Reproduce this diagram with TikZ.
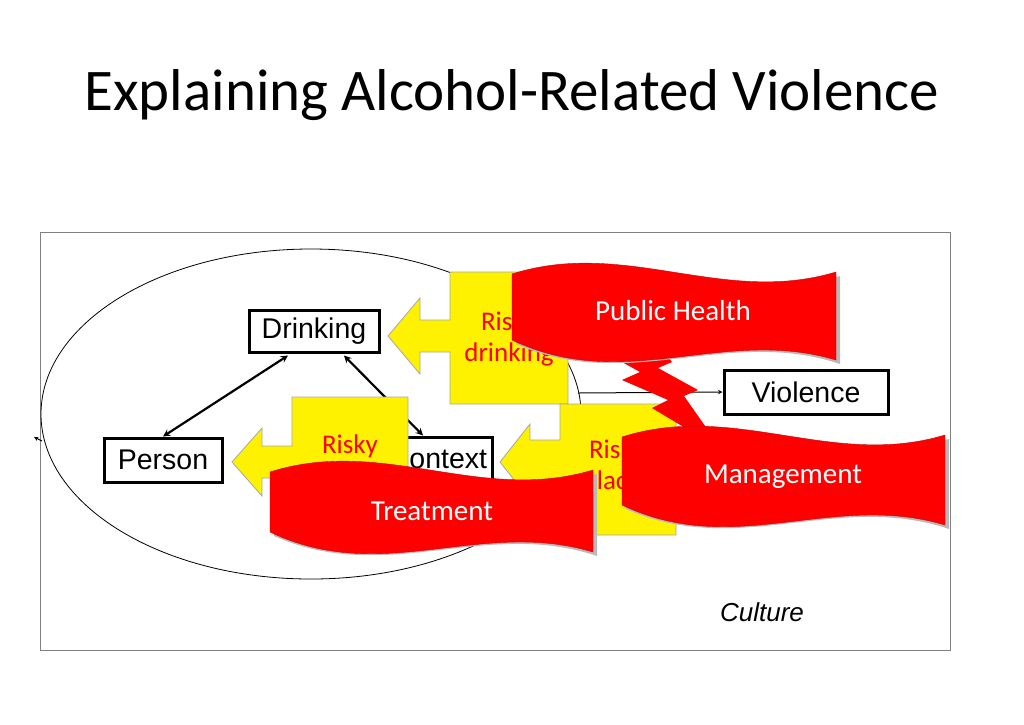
\documentclass[tikz,border=0pt]{standalone}
\usepackage{fontspec}
\setmainfont{Carlito}
\newfontfamily\arialfont{Liberation Sans}
\usetikzlibrary{positioning}

\tikzset{
  factor/.style={draw, line width=3pt, inner sep=5pt, font=\arialfont\fontsize{28.5}{32}\selectfont},
  callout/.style={fill=yellow, draw=gray!70, line width=.8pt},
  banner/.style={fill=red, draw=red!80!black, line width=.4pt},
  shadow/.style={fill=gray!55},
  risklabel/.style={text=red, align=center, font=\fontsize{27}{31}\selectfont},
  bannerlabel/.style={text=white, font=\fontsize{29}{33}\selectfont},
}
% wavy banner: x0,y0 (top left), x1,y1 (bottom right)
\newcommand{\wavebanner}[4]{%
  \fill[shadow] ({#1+4},{#2+16}) .. controls ({#1+(#3-#1)*.35+4},{#2-24}) and ({#1+(#3-#1)*.65+4},{#2+44}) .. ({#3+4},{#2+14})
    -- ({#3+4},{#4+4}) .. controls ({#1+(#3-#1)*.65+4},{#4-34}) and ({#1+(#3-#1)*.35+4},{#4+34}) .. ({#1+4},{#4-16}) -- cycle;
  \path[banner] (#1,{#2+12}) .. controls ({#1+(#3-#1)*.35},{#2-24}) and ({#1+(#3-#1)*.65},{#2+44}) .. (#3,{#2+10})
    -- (#3,#4) .. controls ({#1+(#3-#1)*.65},{#4-34}) and ({#1+(#3-#1)*.35},{#4+34}) .. (#1,{#4-20}) -- cycle;
}

\begin{document}
\begin{tikzpicture}[x=1pt, y=-1pt]
  \useasboundingbox (0,0) rectangle (1024,724);
  \node (title) at (512,95) {\fontsize{59}{66}\selectfont Explaining Alcohol-Related Violence};

  \draw[gray, line width=.8pt] (40,232) rectangle (950,650);
  \draw[line width=.8pt] (311,414) ellipse [x radius=270pt, y radius=165pt];
  \node[font=\arialfont\itshape\fontsize{26}{30}\selectfont] (culture) at (762,612) {Culture};

  \node[factor, minimum width=130pt, minimum height=42pt] (drinking) at (314,331) {Drinking};
  \node[factor, minimum width=118pt, minimum height=44pt] (person) at (163,460) {Person};
  \node[factor, minimum height=44pt] (context) at (438,459) {Context};
  \node[factor, minimum width=164pt, minimum height=44pt] (violence) at (806,392) {Violence};
  \coordinate (rim) at (578,393);

  \draw[stealth-stealth, line width=2.2pt] (drinking.south) ++(-26,2) -- (person.north);
  \draw[stealth-stealth, line width=2.2pt] (drinking.south) ++(30,2) -- ([xshift=-15pt]context.north);
  \draw[-stealth, line width=1pt] (rim) -- (violence.west);
  \draw[-stealth, line width=1pt] (42,441) -- (34,437);

  % yellow callouts
  \path[callout] (450,272) -- (568,272) -- (568,404) -- (450,404) -- (450,352) -- (420,352)
    -- (420,374) -- (388,336) -- (420,298) -- (420,320) -- (450,320) -- cycle;
  \node[risklabel] (riskdrink) at (509,339) {Risky\\drinking};
  \path[callout] (292,397) -- (408,397) -- (408,495) -- (292,495) -- (292,478) -- (262,478)
    -- (262,496) -- (232,462) -- (262,428) -- (262,446) -- (292,446) -- cycle;
  \node[risklabel] (riskperson) at (350,446) {Risky};
  \path[callout] (560,404) -- (676,404) -- (676,535) -- (560,535) -- (560,485) -- (530,485)
    -- (530,500) -- (500,462) -- (530,424) -- (530,440) -- (560,440) -- cycle;
  \node[risklabel] (riskplace) at (617,467) {Risky\\places};

  % lightning
  \fill[red] (604,352) -- (652,336) -- (672,362) -- (658,368) -- (698,390) -- (684,396) -- (722,450)
    -- (652,408) -- (668,400) -- (622,380) -- (640,372) -- cycle;

  \wavebanner{512}{262}{836}{360}
  \node[bannerlabel] (public) at (673,311) {Public Health};
  \wavebanner{270}{460}{593}{552}
  \node[bannerlabel] (treat) at (432,511) {Treatment};
  \wavebanner{622}{425}{945}{525}
  \node[bannerlabel] (manage) at (783,477) {Management};
\end{tikzpicture}
\end{document}
